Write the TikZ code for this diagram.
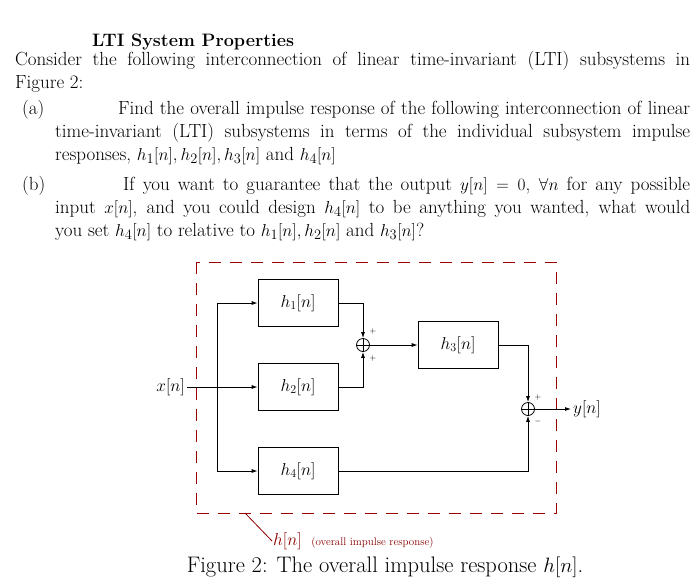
\documentclass[tikz,border=0pt]{standalone}
\usetikzlibrary{arrows.meta}
\begin{document}
\begin{tikzpicture}[x=1pt,y=-1pt,
  blk/.style={draw,thick,minimum width=80pt,minimum height=47pt,inner sep=0,font=\fontsize{17}{20}\selectfont},
  sumj/.style={draw,thick,circle,minimum size=13pt,inner sep=0},
  sig/.style={thick,-{Latex[length=6pt,width=4pt]}},
  wire/.style={thick},
  pl/.style={font=\fontsize{8}{9}\selectfont,inner sep=1pt},
  txt/.style={inner sep=0,anchor=north west,align=justify,font=\fontsize{19}{23}\selectfont}]
\useasboundingbox (0,0) rectangle (700,587);
\node[anchor=base west,inner sep=0,font=\fontsize{18}{20}\selectfont\bfseries] (title) at (92,46) {LTI System Properties};
\node[txt,text width=675pt] (intro) at (15,51) {Consider the following interconnection of linear time-invariant (LTI) subsystems in\linebreak Figure 2:};
\node[txt,text width=635pt] (pa) at (55,100) {\hspace*{-33pt}\makebox[33pt][l]{(a)}\hspace{63pt}Find the overall impulse response of the following interconnection of linear\linebreak time-invariant (LTI) subsystems in terms of the individual subsystem impulse\linebreak responses, $h_1[n], h_2[n], h_3[n]$ and $h_4[n]$};
\node[txt,text width=635pt] (pb) at (55,176) {\hspace*{-33pt}\makebox[33pt][l]{(b)}\hspace{68pt}If you want to guarantee that the output $y[n]=0$, $\forall n$ for any possible\linebreak input $x[n]$, and you could design $h_4[n]$ to be anything you wanted, what would\linebreak you set $h_4[n]$ to relative to $h_1[n], h_2[n]$ and $h_3[n]$?};
% diagram
\draw[dashed,dash pattern=on 12pt off 9pt,thick,red!60!black] (196,262) rectangle (556,513);
\node[blk] (h1) at (298,303) {$h_1[n]$};
\node[blk] (h2) at (298,387) {$h_2[n]$};
\node[blk] (h4) at (298,471) {$h_4[n]$};
\node[blk] (h3) at (458,345) {$h_3[n]$};
\node[sumj] (s1) at (363,345) {};
\node[sumj] (s2) at (528,409) {};
\draw[thick] (s1.north)--(s1.south) (s1.west)--(s1.east) (s2.north)--(s2.south) (s2.west)--(s2.east);
\node[anchor=east,inner sep=2pt,font=\fontsize{17}{20}\selectfont] (x) at (187,387) {$x[n]$};
\node[anchor=west,inner sep=2pt,font=\fontsize{17}{20}\selectfont] (y) at (571,409) {$y[n]$};
\coordinate (b) at (217,387);
\draw[wire] (x.east) -- (b);
\draw[sig] (b) -- (h2.west);
\draw[sig] (b) |- (h1.west);
\draw[sig] (b) |- (h4.west);
\draw[sig] (h1.east) -| (s1.north);
\draw[sig] (h2.east) -| (s1.south);
\draw[sig] (s1.east) -- (h3.west);
\draw[sig] (h3.east) -| (s2.north);
\draw[sig] (h4.east) -| (s2.south);
\draw[sig] (s2.east) -- (y.west);
\node[pl] (p1) at (373,331) {+};
\node[pl] (p2) at (373,358) {+};
\node[pl] (p3) at (538,397) {+};
\node[pl] (p4) at (538,421) {$-$};
\coordinate (lk) at (245,513);
\node[anchor=west,inner sep=1pt,red!55!black,font=\fontsize{16}{18}\selectfont] (hn) at (272,541) {$h[n]$\ \ {\fontsize{11}{12}\selectfont (overall impulse response)}};
\draw[thick,red!55!black] (lk) -- (hn.west);
\node[anchor=base,inner sep=0,font=\fontsize{22.5}{26}\selectfont] (cap) at (385,572) {Figure 2: The overall impulse response $h[n]$.};
\end{tikzpicture}
\end{document}
